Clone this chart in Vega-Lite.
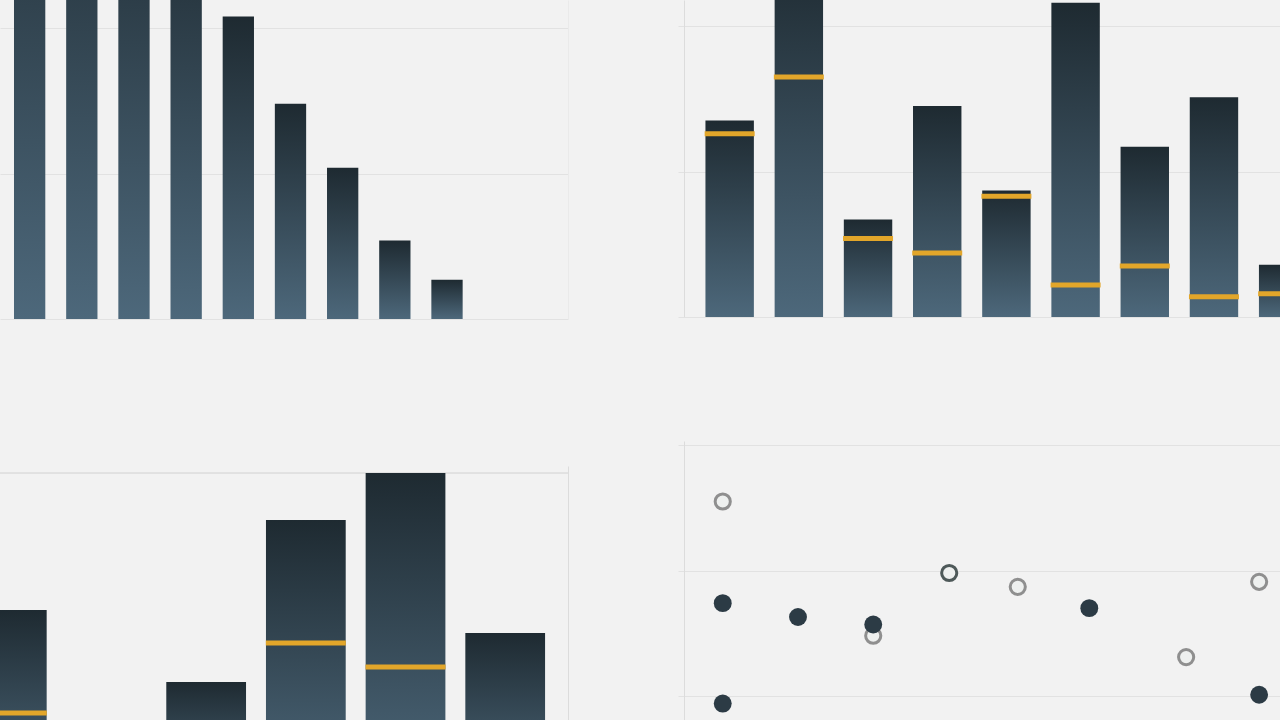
{
  "$schema": "https://vega.github.io/schema/vega-lite/v6.json",
  "background": "#f2f2f2",
  "padding": {"left": -1, "top": 0, "right": 0, "bottom": 0},
  "config": {
    "view": {"stroke": null},
    "axis": {"gridColor": "#e2e2e2", "domainColor": "#dcdcdc", "tickColor": "#e2e2e2", "labels": false, "minExtent": 0}
  },
  "datasets": {
    "ranking": [
      {"item": "t1", "value": 36},
      {"item": "t2", "value": 34},
      {"item": "t3", "value": 32},
      {"item": "t4", "value": 29},
      {"item": "t5", "value": 20.8},
      {"item": "t6", "value": 14.8},
      {"item": "t7", "value": 10.4},
      {"item": "t8", "value": 5.4},
      {"item": "t9", "value": 2.7}
    ],
    "versus": [
      {"item": "c1", "value": 13.5, "target": 12.6},
      {"item": "c2", "value": 25, "target": 16.5},
      {"item": "c3", "value": 6.7, "target": 5.4},
      {"item": "c4", "value": 14.5, "target": 4.4},
      {"item": "c5", "value": 8.7, "target": 8.3},
      {"item": "c6", "value": 21.6, "target": 2.2},
      {"item": "c7", "value": 11.7, "target": 3.5},
      {"item": "c8", "value": 15.1, "target": 1.4},
      {"item": "c9", "value": 3.6, "target": 1.6}
    ],
    "wide": [
      {"item": "b1", "value": 11.44, "target": 5.0},
      {"item": "b3", "value": 6.94, "target": null},
      {"item": "b4", "value": 17.06, "target": 9.38},
      {"item": "b5", "value": 20.0, "target": 7.88},
      {"item": "b6", "value": 10.0, "target": 3.0}
    ],
    "dots": [
      {"x": 0.52, "y": 155, "kind": "open", "tone": "light"},
      {"x": 2.54, "y": 48, "kind": "open", "tone": "light"},
      {"x": 3.56, "y": 98, "kind": "open", "tone": "dark"},
      {"x": 4.48, "y": 87, "kind": "open", "tone": "light"},
      {"x": 6.74, "y": 31, "kind": "open", "tone": "light"},
      {"x": 7.72, "y": 91, "kind": "open", "tone": "light"},
      {"x": 0.52, "y": 74, "kind": "filled", "tone": "light"},
      {"x": 0.52, "y": -6, "kind": "filled", "tone": "light"},
      {"x": 1.53, "y": 63, "kind": "filled", "tone": "light"},
      {"x": 2.54, "y": 57, "kind": "filled", "tone": "light"},
      {"x": 5.44, "y": 70, "kind": "filled", "tone": "light"},
      {"x": 7.72, "y": 1, "kind": "filled", "tone": "light"}
    ]
  },
  "spacing": 108,
  "hconcat": [
    {
      "spacing": 147,
      "vconcat": [
        {
          "width": 568,
          "height": 319,
          "data": {"name": "ranking"},
          "mark": {
            "type": "bar",
            "clip": true,
            "color": {"gradient": "linear", "x1": 0, "y1": 0, "x2": 0, "y2": 1,
              "stops": [{"offset": 0, "color": "#1e2a31"}, {"offset": 1, "color": "#4d687b"}]}
          },
          "encoding": {
            "x": {"field": "item", "type": "nominal", "axis": null,
              "scale": {"domain": ["t1","t2","t3","t4","t5","t6","t7","t8","t9","t10","t11"], "paddingInner": 0.4, "paddingOuter": 0.1438, "align": 0.933}},
            "y": {"field": "value", "type": "quantitative",
              "scale": {"domain": [0, 21.93], "nice": false},
              "axis": {"orient": "right", "values": [0, 10, 20], "ticks": false, "title": null, "domainColor": "#eaeaea"}}
          }
        },
        {
          "width": 568,
          "height": 254,
          "data": {"name": "wide"},
          "encoding": {
            "x": {"field": "item", "type": "nominal", "axis": null,
              "scale": {"domain": ["b1","b2","b3","b4","b5","b6"], "range": [-56, 568], "paddingInner": 0.2, "paddingOuter": 0.23}}
          },
          "layer": [
            {
              "mark": {"type": "rule", "color": "#e2e2e2"},
              "encoding": {"y": {"datum": 20}, "x": {"value": 0}, "x2": {"value": "width"}}
            },
            {
              "mark": {
                "type": "bar",
                "clip": true,
                "color": {"gradient": "linear", "x1": 0, "y1": 0, "x2": 0, "y2": 1,
                  "stops": [{"offset": 0, "color": "#1e2a31"}, {"offset": 1, "color": "#4d687b"}]}
              },
              "encoding": {
                "y": {"field": "value", "type": "quantitative",
                  "scale": {"domain": [4.56, 20.44], "nice": false, "zero": false},
                  "axis": {"orient": "right", "grid": false, "ticks": false, "title": null}}
              }
            },
            {
              "mark": {"type": "tick", "clip": true, "color": "#e2a62a", "thickness": 5, "size": 80, "opacity": 1},
              "encoding": {
                "y": {"field": "target", "type": "quantitative"}
              }
            }
          ]
        }
      ]
    },
    {
      "spacing": 123,
      "vconcat": [
        {
          "width": 596,
          "height": 317,
          "data": {"name": "versus"},
          "encoding": {
            "x": {"field": "item", "type": "nominal", "axis": null,
              "scale": {"domain": ["c1","c2","c3","c4","c5","c6","c7","c8","c9","c10"], "range": [0, 714], "paddingInner": 0.3, "paddingOuter": 0.31}}
          },
          "layer": [
            {
              "mark": {
                "type": "bar",
                "clip": true,
                "color": {"gradient": "linear", "x1": 0, "y1": 0, "x2": 0, "y2": 1,
                  "stops": [{"offset": 0, "color": "#1e2a31"}, {"offset": 1, "color": "#4d687b"}]}
              },
              "encoding": {
                "y": {"field": "value", "type": "quantitative",
                  "scale": {"domain": [0, 21.79], "nice": false},
                  "axis": {"values": [0, 10, 20], "tickSize": 6, "title": null}}
              }
            },
            {
              "mark": {"type": "tick", "clip": true, "color": "#e2a62a", "thickness": 5, "size": 50, "opacity": 1},
              "encoding": {
                "y": {"field": "target", "type": "quantitative"}
              }
            }
          ]
        },
        {
          "width": 596,
          "height": 280,
          "data": {"name": "dots"},
          "encoding": {
            "x": {"field": "x", "type": "quantitative", "axis": null,
              "scale": {"domain": [0, 8], "nice": false, "zero": false}},
            "y": {"field": "y", "type": "quantitative",
              "scale": {"domain": [-19.9, 203.2], "nice": false, "zero": false},
              "axis": {"values": [0, 100, 200], "tickSize": 6, "title": null}}
          },
          "layer": [
            {
              "transform": [{"filter": "datum.kind === 'open'"}],
              "mark": {"type": "circle", "size": 230, "fill": "#eef0ef", "strokeWidth": 3, "opacity": 1},
              "encoding": {
                "stroke": {"field": "tone", "type": "nominal", "legend": null,
                  "scale": {"domain": ["light", "dark"], "range": ["#8f8f8f", "#4e5959"]}}
              }
            },
            {
              "transform": [{"filter": "datum.kind === 'filled'"}],
              "mark": {"type": "circle", "size": 320, "color": "#2c3b45", "opacity": 1}
            }
          ]
        }
      ]
    }
  ]
}
